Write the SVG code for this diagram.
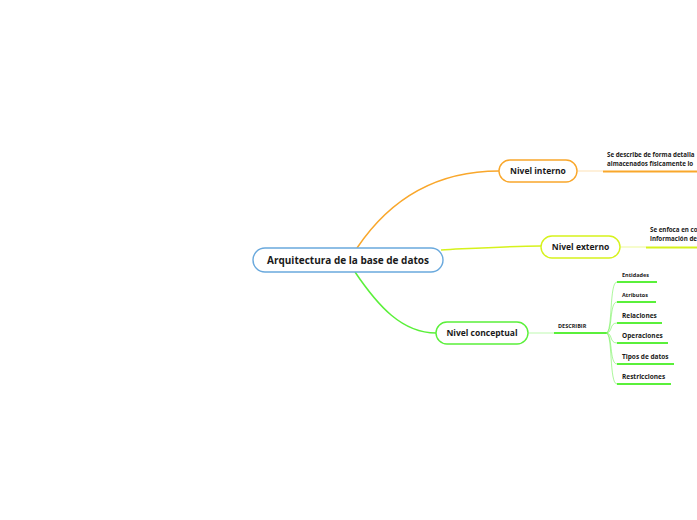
<svg xmlns="http://www.w3.org/2000/svg" width="697" height="520" viewBox="0 0 697 520">
<style>
.node{fill:#ffffff;stroke-width:1.4}
.t{font-family:"Open Sans","Noto Sans",sans-serif;font-weight:700;fill:#1a1a1a}
.c{fill:none}
</style>
<rect width="697" height="520" fill="#ffffff"/>
<g id="connectors">
  <path class="c" d="M357,248 C392,196 440,171 499,171" stroke="#f9a72b" stroke-width="1.5"/>
  <path class="c" d="M441,250 C480,248 510,246 541,246" stroke="#d6f21c" stroke-width="1.5"/>
  <path class="c" d="M355,272 C378,306 402,333 436,333" stroke="#5af03a" stroke-width="1.5"/>
  <line x1="577" y1="171" x2="603" y2="171" stroke="#f9a72b" stroke-opacity="0.35" stroke-width="1"/>
  <line x1="603" y1="171.5" x2="697" y2="171.5" stroke="#f9a72b" stroke-width="2"/>
  <line x1="620" y1="247" x2="646" y2="247" stroke="#d6f21c" stroke-opacity="0.45" stroke-width="1"/>
  <line x1="646" y1="247.5" x2="697" y2="247.5" stroke="#d6f21c" stroke-width="2"/>
  <line x1="528" y1="333" x2="554" y2="333" stroke="#5af03a" stroke-opacity="0.4" stroke-width="1"/>
  <line x1="554" y1="333" x2="606" y2="333" stroke="#5af03a" stroke-width="2"/>
  <g stroke="#5af03a" stroke-opacity="0.5" stroke-width="1" fill="none">
    <path d="M606,333 C613,333 609,282 617,282"/>
    <path d="M606,333 C613,333 609,302 617,302"/>
    <path d="M606,333 C613,333 609,323 617,323"/>
    <path d="M606,333 C613,333 609,343 617,343"/>
    <path d="M606,333 C613,333 609,364 617,364"/>
    <path d="M606,333 C613,333 609,384 617,384"/>
  </g>
  <g stroke="#5af03a" stroke-width="2">
    <line x1="617" y1="282" x2="657" y2="282"/>
    <line x1="617" y1="302" x2="656" y2="302"/>
    <line x1="617" y1="323" x2="662" y2="323"/>
    <line x1="617" y1="343" x2="668" y2="343"/>
    <line x1="617" y1="364" x2="674" y2="364"/>
    <line x1="617" y1="384" x2="671" y2="384"/>
  </g>
</g>
<g id="central">
  <rect class="node" x="253" y="248" width="190" height="24" rx="12" stroke="#6aa9dd"/>
  <text class="t" x="348" y="263.5" font-size="10" text-anchor="middle">Arquitectura de la base de datos</text>
</g>
<g id="nivel-interno">
  <rect class="node" x="499" y="160" width="78" height="22" rx="11" stroke="#f9a72b"/>
  <text class="t" x="538" y="174" font-size="8.5" text-anchor="middle">Nivel interno</text>
</g>
<g id="interno-desc">
  <text class="t" x="607" y="157" font-size="6.2">Se describe de forma detalla</text>
  <text class="t" x="607" y="166" font-size="6.2">almacenados físicamente lo</text>
</g>
<g id="nivel-externo">
  <rect class="node" x="541" y="236" width="79" height="22" rx="11" stroke="#d6f21c"/>
  <text class="t" x="580.5" y="250" font-size="8.5" text-anchor="middle">Nivel externo</text>
</g>
<g id="externo-desc">
  <text class="t" x="650" y="232" font-size="6.2">Se enfoca en co</text>
  <text class="t" x="650" y="241" font-size="6.2">información de</text>
</g>
<g id="nivel-conceptual">
  <rect class="node" x="436" y="322" width="92" height="22" rx="11" stroke="#5af03a"/>
  <text class="t" x="482" y="336" font-size="8.5" text-anchor="middle">Nivel conceptual</text>
</g>
<g id="describir">
  <text class="t" x="558" y="328" font-size="5.5">DESCRIBIR</text>
</g>
<g id="entidades"><text class="t" x="622" y="277" font-size="5.5">Entidades</text></g>
<g id="atributos"><text class="t" x="622" y="297" font-size="5.5">Atributos</text></g>
<g id="relaciones"><text class="t" x="622" y="318" font-size="6.5">Relaciones</text></g>
<g id="operaciones"><text class="t" x="622" y="338" font-size="6.5">Operaciones</text></g>
<g id="tipos"><text class="t" x="622" y="359" font-size="6.5">Tipos de datos</text></g>
<g id="restricciones"><text class="t" x="622" y="379" font-size="6.5">Restricciones</text></g>
</svg>
